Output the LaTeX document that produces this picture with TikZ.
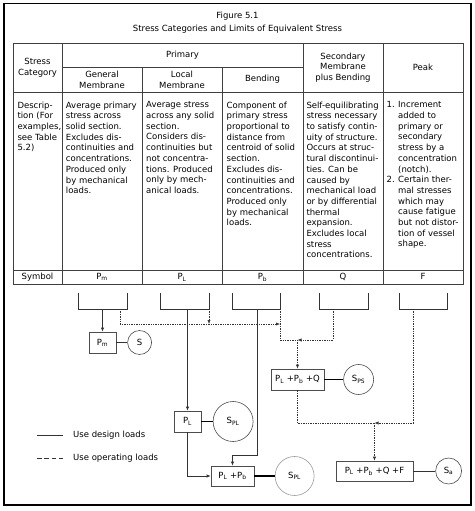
\documentclass[tikz,border=0pt]{standalone}
\usepackage{fontspec}
\setmainfont{DejaVu Sans}
\usepackage{tikz}
\usetikzlibrary{positioning,arrows.meta,calc}
\newcommand{\sbs}[1]{\textsubscript{#1}}
\newcommand{\pknum}[1]{\makebox[11.5pt][l]{#1}}
\newcommand{\pkind}{\hspace*{11.5pt}}

\begin{document}
\begin{tikzpicture}[
    x=1pt, y=-1pt,
    >={Latex[length=4pt,width=3.2pt]},
    txt/.style={font=\fontsize{8.5pt}{10.7pt}\selectfont, inner sep=0pt},
    head/.style={txt, align=center},
    desc/.style={txt, align=left, anchor=north west},
    tablerule/.style={draw=black!75, line width=0.7pt},
    brace/.style={draw=black!80, line width=0.8pt},
    load/.style={draw=black!80, line width=0.6pt},
    oper/.style={draw=black!80, line width=0.6pt, dash pattern=on 1.4pt off 1pt},
    sym/.style={draw=black!70, line width=0.6pt, txt, minimum height=21pt},
    limit/.style={draw=black!70, circle, line width=0.6pt, txt},
    tie/.style={draw=black, line width=1.1pt},
]
    \useasboundingbox (0,0) rectangle (474,511);
    \draw[line width=1.8pt] (4,3.6) rectangle (470.6,504.8);

    % Title
    \node[txt, anchor=base] (fig) at (237.5,19) {Figure 5.1};
    \node[txt, anchor=base] (title) at (237.5,32) {Stress Categories and Limits of Equivalent Stress};

    % Table
    \draw[tablerule] (13,43) rectangle (463,284);
    \draw[tablerule] (62,67) -- (303,67);
    \draw[tablerule] (13,92) -- (463,92);
    \draw[tablerule] (13,270) -- (463,270);
    \foreach \x in {62,303,383} \draw[tablerule] (\x,43) -- (\x,284);
    \foreach \x in {142,222} \draw[tablerule] (\x,67) -- (\x,284);

    \node[head] (cat) at (37.5,67.5) {Stress\\Category};
    \node[head] (prim) at (182.5,55) {Primary};
    \node[head] (gen) at (102,79.5) {General\\Membrane};
    \node[head] (loc) at (182,79.5) {Local\\Membrane};
    \node[head] (bend) at (262.5,79.5) {Bending};
    \node[head] (sec) at (343,67.5) {Secondary\\Membrane\\plus Bending};
    \node[head] (peak) at (423,67.5) {Peak};

    \node[desc] (dcat) at (17.3,101.5) {Descrip-\\tion (For\\examples,\\see Table\\5.2)};
    \node[desc] (dgen) at (65.7,101.5) {Average primary\\stress across\\solid section.\\Excludes dis-\\continuities and\\concentrations.\\Produced only\\by mechanical\\loads.};
    \node[desc] (dloc) at (146,101.5) {Average stress\\across any solid\\section.\\Considers dis-\\continuities but\\not concentra-\\tions. Produced\\only by mech-\\anical loads.};
    \node[desc] (dbend) at (226.5,101.5) {Component of\\primary stress\\proportional to\\distance from\\centroid of solid\\section.\\Excludes dis-\\continuities and\\concentrations.\\Produced only\\by mechanical\\loads.};
    \node[desc] (dsec) at (306.3,101.5) {Self-equilibrating\\stress necessary\\to satisfy contin-\\uity of structure.\\Occurs at struc-\\tural discontinui-\\ties. Can be\\caused by\\mechanical load\\or by differential\\thermal\\expansion.\\Excludes local\\stress\\concentrations.};
    \node[desc] (dpeak) at (386.5,101.5) {\pknum{1.}Increment\\\pkind added to\\\pkind primary or\\\pkind secondary\\\pkind stress by a\\\pkind concentration\\\pkind (notch).\\\pknum{2.}Certain ther-\\\pkind mal stresses\\\pkind which may\\\pkind cause fatigue\\\pkind but not distor-\\\pkind tion of vessel\\\pkind shape.};

    \node[txt, anchor=base] (symb) at (37.5,279.5) {Symbol};
    \node[txt, anchor=base] (sm) at (102,279.5) {P\sbs{m}};
    \node[txt, anchor=base] (sl) at (182,279.5) {P\sbs{L}};
    \node[txt, anchor=base] (sb) at (262.5,279.5) {P\sbs{b}};
    \node[txt, anchor=base] (sq) at (343,279.5) {Q};
    \node[txt, anchor=base] (sf) at (423,279.5) {F};

    % Brackets under the symbols
    \foreach \a/\b in {78/127,160/209,232/280,319/368,399/447}
        \draw[brace] (\a,293) |- (\b,309) -- (\b,293);
    \coordinate (bm) at (102.5,309);
    \coordinate (dm) at (120,309);
    \coordinate (bl) at (187.5,309);
    \coordinate (dl) at (209,309);
    \coordinate (bb) at (257,309);
    \coordinate (db) at (280,309);
    \coordinate (dq) at (333,309);
    \coordinate (df) at (413,309);

    % Combinations and their limits
    \node[sym, minimum width=27pt] (pm) at (102.5,342.5) {P\sbs{m}};
    \node[limit, minimum size=24pt, right=11pt of pm] (s) {S};
    \node[sym, minimum width=53pt] (plq) at (297.5,379.5) {P\sbs{L} +P\sbs{b} +Q};
    \node[limit, minimum size=30pt, right=19pt of plq] (sps) {S\sbs{PS}};
    \node[sym, minimum width=27pt] (pl) at (187.5,421.5) {P\sbs{L}};
    \node[limit, minimum size=40pt, right=11.5pt of pl] (spl) {S\sbs{PL}};
    \node[sym, minimum width=43pt, minimum height=20pt] (plb) at (232.5,476) {P\sbs{L} +P\sbs{b}};
    \node[limit, draw=black!40, minimum size=39pt, right=20.5pt of plb] (splb) {S\sbs{PL}};
    \node[sym, minimum width=77pt, minimum height=20pt] (plqf) at (374.5,471) {P\sbs{L} +P\sbs{b} +Q +F};
    \node[limit, minimum size=26pt, right=22pt of plqf] (sa) {S\sbs{a}};

    \coordinate (j1) at (280,324);
    \coordinate (j2) at (297.5,340);
    \coordinate (j3) at (374.5,423);
    \coordinate (j4) at (232.5,455);

    % Design loads
    \draw[load,->] (bm) -- (pm);
    \draw[load,->] (bl) -- (pl);
    \draw[load,->] (pl) |- (plb);
    \draw[load,->] (bb) |- (j4) -- (plb);

    % Operating loads
    \draw[oper,->] (dm) |- (j1);
    \draw[oper,->] (dl) -- (dl |- j1);
    \draw[oper] (db) |- (j2);
    \draw[oper,->] (dq) |- (j2);
    \draw[oper,->] (j2) -- (plq);
    \draw[oper] (plq) |- (j3);
    \draw[oper,->] (df) |- (j3);
    \draw[oper,->] (j3) -- (plqf);

    % Ties to the limits
    \draw[load] (pm) -- (s);
    \draw[tie] (plq) -- (sps);
    \draw[tie] (pl) -- (spl);
    \draw[tie] (plb) -- (splb);
    \draw[load] (plqf) -- (sa);

    % Legend
    \coordinate (ld1) at (37,435);
    \coordinate (ld2) at (63,435);
    \coordinate (lo1) at (37,458);
    \coordinate (lo2) at (63,458);
    \node[txt, anchor=west] (lgd) at (73,435) {Use design loads};
    \node[txt, anchor=west] (lgo) at (73,458) {Use operating loads};
    \draw[load] (ld1) -- (ld2);
    \draw[load, dash pattern=on 4.5pt off 2.8pt] (lo1) -- (lo2);
\end{tikzpicture}
\end{document}
